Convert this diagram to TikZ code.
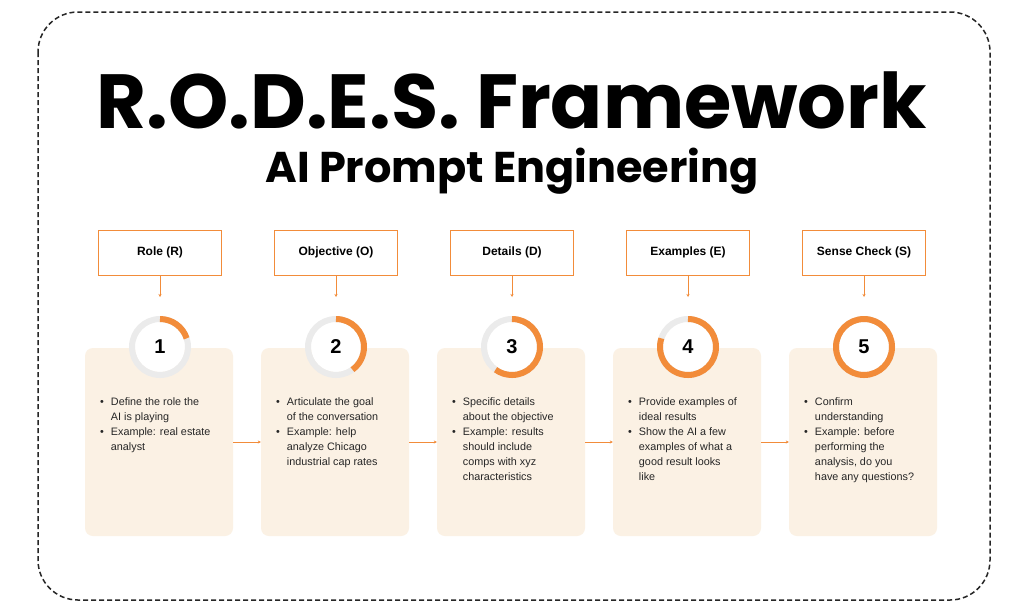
\documentclass[tikz,border=0pt]{standalone}
\usepackage{fontspec}
\usepackage{graphicx}
\usetikzlibrary{arrows.meta}
\setmainfont{Liberation Sans}
\newfontfamily\titlefont{Poppins}
\definecolor{org}{HTML}{F28C3A}
\definecolor{cream}{HTML}{FBF1E4}
\definecolor{ringgray}{HTML}{EBEBEB}
\tikzset{
  lbl/.style={draw=org,line width=0.8pt,fill=white,minimum width=123pt,minimum height=45pt,font=\fontsize{12}{14}\selectfont\bfseries},
  card/.style={fill=cream,rounded corners=8pt,minimum width=148pt,minimum height=188pt},
  conn/.style={draw=org,line width=0.8pt,-{Stealth[length=3pt,width=3pt]}},
  btxt/.style={anchor=north west,inner sep=0pt,font=\fontsize{10.8}{15}\selectfont,text=black!85},
  num/.style={circle,fill=white,minimum size=50pt,font=\fontsize{20}{22}\selectfont\bfseries}
}
\newcommand{\ringdraw}[3]{%
  \draw[ringgray,line width=6pt] (#1,#2) circle (28);
  \draw[org,line width=6pt] (#1,#2) ++(-90:28) arc[start angle=-90,end angle={-90+#3},radius=28];}
\begin{document}
\begin{tikzpicture}[x=1pt,y=-1pt]
\useasboundingbox (0,0) rectangle (1024,614);
\fill[white] (0,0) rectangle (1024,614);
\draw[dash pattern=on 5pt off 3pt,line width=1.5pt,rounded corners=40pt,black!85] (38,12) rectangle (990,600);
\node (title) at (512,100) {\resizebox{830pt}{!}{\titlefont\bfseries R.O.D.E.S. Framework}};
\node (sub) at (512,171) {\resizebox{493pt}{!}{\titlefont\bfseries AI Prompt Engineering}};
\foreach \i/\x/\t/\a in {1/160/Role (R)/72,2/336/Objective (O)/144,3/512/Details (D)/216,4/688/Examples (E)/288,5/864/Sense Check (S)/359.9}{
  \node[lbl] (l\i) at (\x,252.5) {\t};
  \coordinate (r\i) at (\x,297);
  \draw[conn] (l\i) -- (r\i);
  \node[card] (c\i) at (\x-1,442) {};
  \node[num] (n\i) at (\x,347) {\i};
  \ringdraw{\x}{347}{\a}
}
\foreach \i/\j in {1/2,2/3,3/4,4/5}{\draw[conn] (c\i.east) -- (c\j.west);}
\node[btxt] (t1) at (100,395) {\begin{tabular}{@{}l@{\hspace{7pt}}l@{}}\textbullet & Define the role the\\ & AI is playing\\ \textbullet & Example: real estate\\ & analyst\end{tabular}};
\node[btxt] (t2) at (276,395) {\begin{tabular}{@{}l@{\hspace{7pt}}l@{}}\textbullet & Articulate the goal\\ & of the conversation\\ \textbullet & Example: help\\ & analyze Chicago\\ & industrial cap rates\end{tabular}};
\node[btxt] (t3) at (452,395) {\begin{tabular}{@{}l@{\hspace{7pt}}l@{}}\textbullet & Specific details\\ & about the objective\\ \textbullet & Example: results\\ & should include\\ & comps with xyz\\ & characteristics\end{tabular}};
\node[btxt] (t4) at (628,395) {\begin{tabular}{@{}l@{\hspace{7pt}}l@{}}\textbullet & Provide examples of\\ & ideal results\\ \textbullet & Show the AI a few\\ & examples of what a\\ & good result looks\\ & like\end{tabular}};
\node[btxt] (t5) at (804,395) {\begin{tabular}{@{}l@{\hspace{7pt}}l@{}}\textbullet & Confirm\\ & understanding\\ \textbullet & Example: before\\ & performing the\\ & analysis, do you\\ & have any questions?\end{tabular}};
\end{tikzpicture}
\end{document}
